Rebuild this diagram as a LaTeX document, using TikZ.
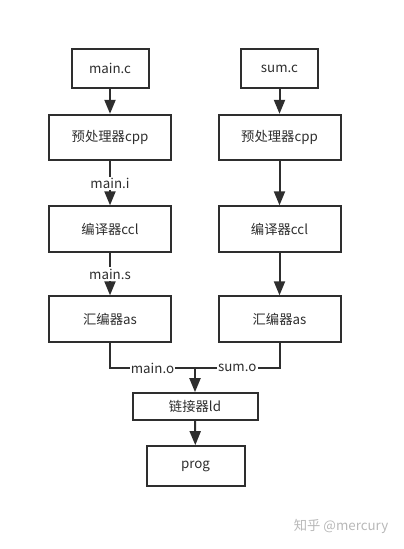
\documentclass[tikz,border=0pt]{standalone}
\usepackage{fontspec}
\setmainfont{Noto Sans CJK SC}
\usetikzlibrary{arrows.meta}
\colorlet{linegray}{black!82}
\tikzset{box/.style={draw,rectangle,line width=1.5pt,color=linegray,inner sep=0pt,minimum width=91.5pt,minimum height=34pt},
         arr/.style={-{Triangle[length=10.5pt,width=8.25pt]},line width=1.5pt,color=linegray},
         lab/.style={fill=white,inner sep=1pt,text=linegray}
}

\begin{document}
\begin{tikzpicture}[x=0.75pt,y=-0.75pt,font=\fontsize{10}{12}\selectfont]
  \useasboundingbox(0,0)rectangle(403,549);
  \foreach\x/\s/\src in {110/L/main.c,279.5/R/sum.c} {
     \node[box,minimum width=57.75pt,minimum height=29.75pt](src\s) at (\x,68.5){\src};
     \node[box](cpp\s) at (\x,137.5){预处理器cpp};
     \node[box](ccl\s) at (\x,229){编译器ccl};
     \node[box](as\s) at (\x,319){汇编器as};
     \draw[arr](src\s)--(cpp\s);
   }
   \draw[arr](cppL)--node[lab]{main.i}(cclL);
   \draw[arr](cclL)--node[lab]{main.s}(asL);
   \draw[arr](cppR)--(cclR);
   \draw[arr](cclR)--(asR);
%   the two object files meet here
   \coordinate(join) at (195,368);
   \node[box,minimum width=93.75pt,minimum height=20pt](ld) at (195,406.5){链接器ld};
   \node[box,minimum width=73.5pt,minimum height=29.75pt](prog) at (195.5,466){prog};
   \draw[line width=1.5pt,color=linegray](asL)|-node[lab,pos=0.75]{main.o}(join);
   \draw[line width=1.5pt,color=linegray](asR)|-node[lab,pos=0.75]{sum.o}(join);
   \draw[arr](join)--(ld);
   \draw[arr](ld)--(prog);
   \node[text=black!28](mark) at (341,526){知乎 @mercury};
\end{tikzpicture}
\end{document}
